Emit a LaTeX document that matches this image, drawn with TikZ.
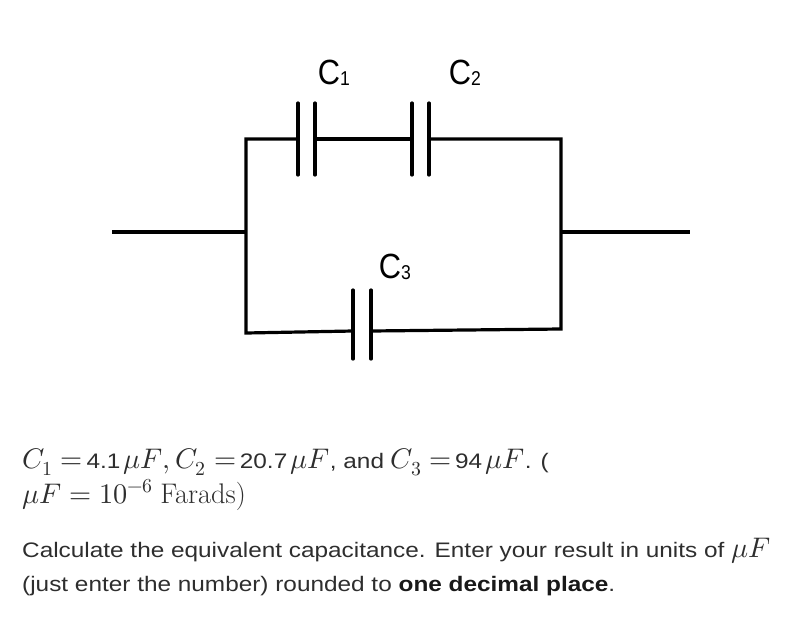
\documentclass[tikz,border=0pt]{standalone}
\usepackage{fontspec}
\usepackage{unicode-math}
\setmathfont{Latin Modern Math}
\setmainfont{Liberation Sans}
\newfontfamily\widesans{Liberation Sans}[FakeStretch=1.16]
\usetikzlibrary{calc}
\newcommand{\capsub}[1]{C\raisebox{-1pt}{\fontsize{20}{22}\selectfont #1}}
\newcommand{\M}[1]{\scalebox{1.35}{$#1$}}
\newcommand{\T}[1]{{\widesans\fontsize{21}{25}\selectfont #1}}
\begin{document}
\begin{tikzpicture}[x=1pt,y=-1pt,
  wire/.style={line width=3.2pt,line cap=butt},
  plate/.style={line width=3.2pt,line cap=round},
  lbl/.style={font=\fontsize{35}{38}\selectfont, inner sep=0pt, xscale=0.88, transform shape},
  txt/.style={anchor=base west, inner sep=0pt, text=black!82, font=\widesans\fontsize{21}{25}\selectfont}]
\useasboundingbox[fill=white] (0,0) rectangle (802,621);
\coordinate (L) at (112,232);
\coordinate (R) at (690,232);
\coordinate (LT) at (246,139);
\coordinate (LM) at (246,232);
\coordinate (LB) at (246,333);
\coordinate (RT) at (561,139);
\coordinate (RM) at (561,232);
\coordinate (RB) at (561,329);
\coordinate (c1a) at (298,139); \coordinate (c1b) at (315,139);
\coordinate (c2a) at (412,139); \coordinate (c2b) at (429,139);
\coordinate (c3a) at (353,331); \coordinate (c3b) at (371,331);
\draw[wire] (L) -- (LM);
\draw[wire] (RM) -- (R);
\draw[wire] (c1a) -- (LT) -- (LB) -- (c3a);
\draw[wire] (c1b) -- (c2a);
\draw[wire] (c2b) -- (RT) -- (RB) -- (c3b);
\foreach \p in {c1a,c1b,c2a,c2b}{\draw[plate] ($(\p)+(0,-36)$) -- ($(\p)+(0,36)$);}
\foreach \p in {c3a,c3b}{\draw[plate] ($(\p)+(0,-41)$) -- ($(\p)+(0,28)$);}
\node[lbl] (t1) at (334,73) {\capsub{1}};
\node[lbl] (t2) at (465,73) {\capsub{2}};
\node[lbl] (t3) at (395,267) {\capsub{3}};
\node[txt] (l1) at (22,468) {\M{C_1=}\,\T{4.1}\,\M{\mu F, C_2=}\,\T{20.7}\,\M{\mu F}\T{, and }\M{C_3=}\,\T{94}\,\M{\mu F}\T{. (}};
\node[txt] (l2) at (22,503) {\M{\mu F=10^{-6}}\ \scalebox{1.35}{\fontfamily{lmr}\selectfont Farads)}};
\node[txt] (l3) at (22,557) {Calculate the equivalent capacitance. Enter your result in units of \M{\mu F}};
\node[txt] (l4) at (22,591) {(just enter the number) rounded to {\bfseries\color{black!90} one decimal place}.};
\end{tikzpicture}
\end{document}
